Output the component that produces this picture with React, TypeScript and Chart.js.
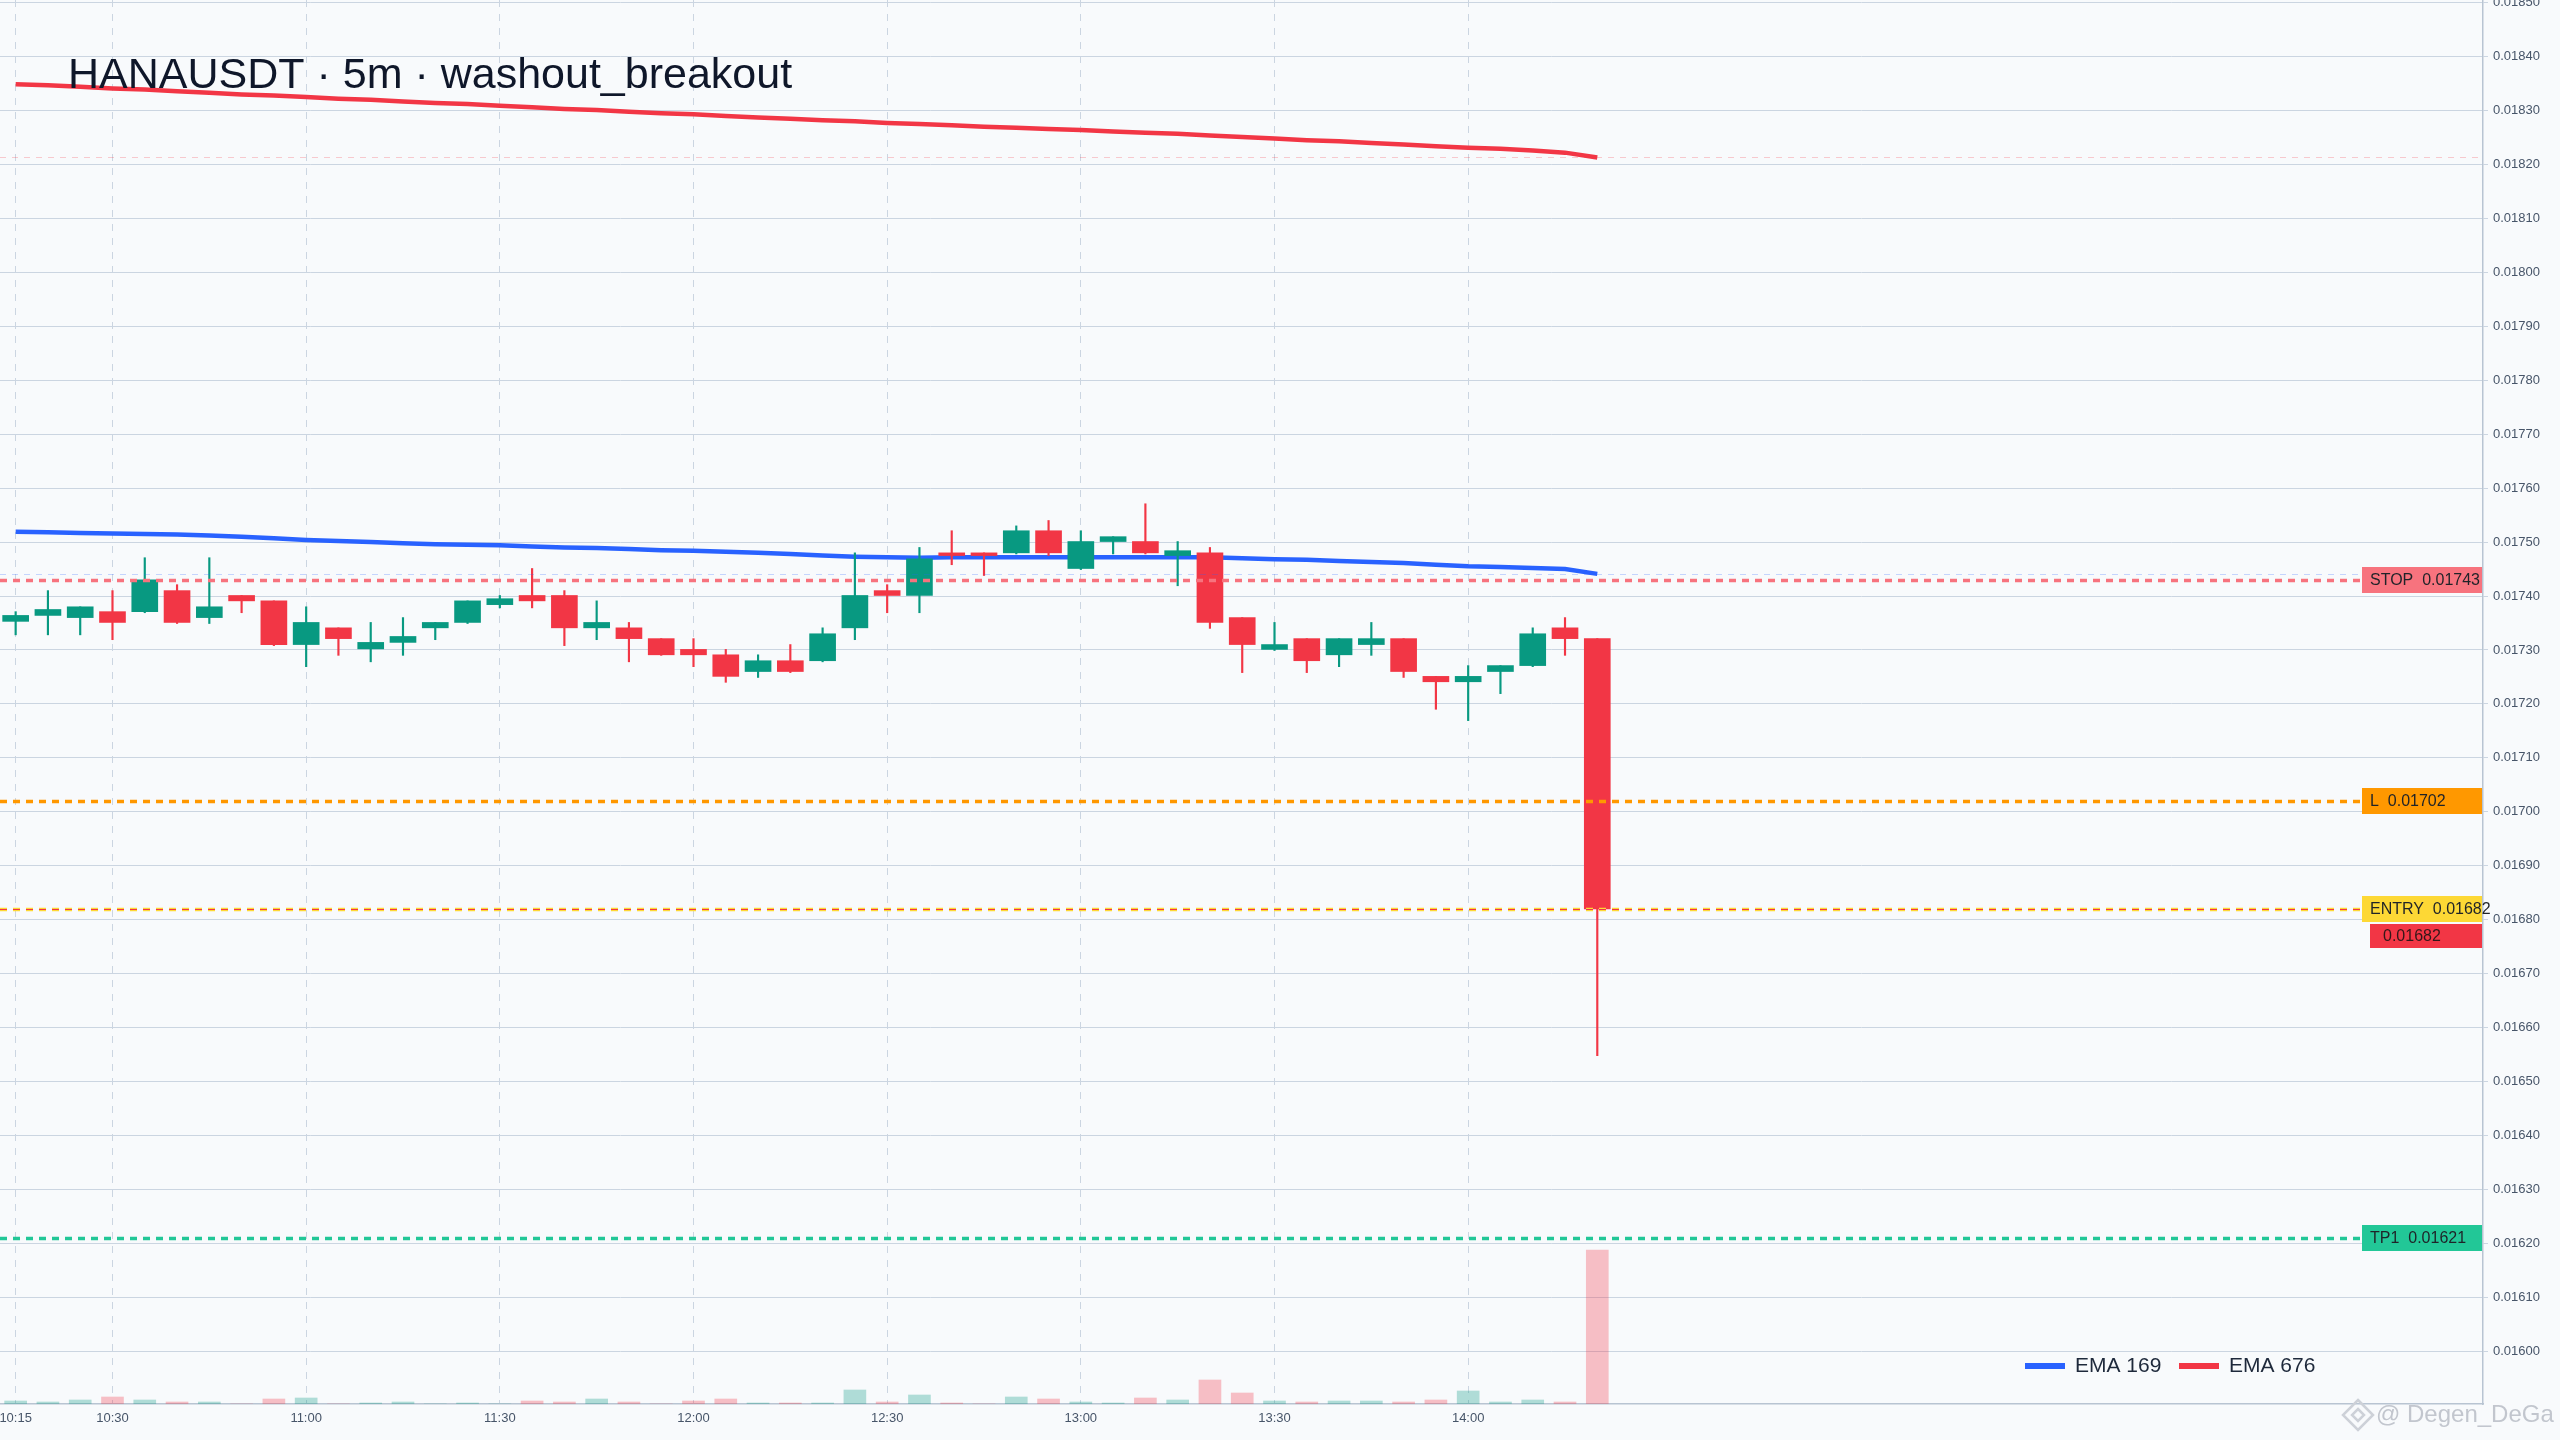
import { useEffect, useRef } from 'react';
import { Chart, registerables } from 'chart.js';

Chart.register(...registerables);

// ---------- data ----------
const TITLE = 'HANAUSDT · 5m · washout_breakout';

const opens = [
  0.017353, 0.017364, 0.017360, 0.017371, 0.017371, 0.017410, 0.017360, 0.017401, 0.017391, 0.017310,
  0.017341, 0.017302, 0.017314, 0.017341, 0.017351, 0.017384, 0.017401, 0.017401, 0.017341, 0.017341,
  0.017321, 0.017301, 0.017291, 0.017260, 0.017280, 0.017280, 0.017341, 0.017410, 0.017401, 0.017480,
  0.017480, 0.017480, 0.017521, 0.017451, 0.017501, 0.017501, 0.017475, 0.017480, 0.017360, 0.017301,
  0.017321, 0.017291, 0.017310, 0.017321, 0.017251, 0.017241, 0.017260, 0.017271, 0.017341, 0.017321,
];
const highs = [
  0.017371, 0.017410, 0.017380, 0.017410, 0.017471, 0.017421, 0.017471, 0.017401, 0.017391, 0.017380,
  0.017341, 0.017351, 0.017360, 0.017351, 0.017391, 0.017401, 0.017451, 0.017410, 0.017391, 0.017351,
  0.017321, 0.017321, 0.017301, 0.017291, 0.017310, 0.017341, 0.017480, 0.017421, 0.017490, 0.017521,
  0.017480, 0.017530, 0.017540, 0.017521, 0.017510, 0.017571, 0.017501, 0.017490, 0.017360, 0.017351,
  0.017321, 0.017321, 0.017351, 0.017321, 0.017251, 0.017271, 0.017271, 0.017341, 0.017360, 0.017321,
];
const lows = [
  0.017328, 0.017328, 0.017328, 0.017319, 0.017369, 0.017349, 0.017349, 0.017369, 0.017308, 0.017269,
  0.017290, 0.017278, 0.017290, 0.017319, 0.017349, 0.017378, 0.017378, 0.017308, 0.017319, 0.017278,
  0.017290, 0.017269, 0.017240, 0.017249, 0.017258, 0.017278, 0.017319, 0.017369, 0.017369, 0.017458,
  0.017438, 0.017478, 0.017475, 0.017449, 0.017478, 0.017478, 0.017419, 0.017340, 0.017258, 0.017299,
  0.017258, 0.017269, 0.017290, 0.017249, 0.017190, 0.017169, 0.017219, 0.017269, 0.017290, 0.016548,
];
const closes = [
  0.017364, 0.017375, 0.017380, 0.017351, 0.017430, 0.017351, 0.017380, 0.017391, 0.017310, 0.017351,
  0.017321, 0.017314, 0.017325, 0.017351, 0.017391, 0.017395, 0.017391, 0.017341, 0.017351, 0.017321,
  0.017291, 0.017291, 0.017251, 0.017280, 0.017260, 0.017330, 0.017401, 0.017401, 0.017469, 0.017475,
  0.017475, 0.017521, 0.017480, 0.017501, 0.017510, 0.017480, 0.017484, 0.017351, 0.017310, 0.017310,
  0.017280, 0.017321, 0.017321, 0.017260, 0.017241, 0.017251, 0.017271, 0.017330, 0.017321, 0.016820,
];
const volumes = [
  30, 20, 40, 70, 40, 20, 20, 0, 50, 60,
  0, 10, 20, 0, 10, 0, 30, 20, 50, 20,
  0, 30, 50, 10, 10, 10, 140, 20, 90, 10,
  0, 70, 50, 20, 10, 60, 40, 240, 110, 30,
  20, 30, 30, 20, 40, 130, 20, 40, 20, 1540,
];
const ema169 = [
  0.017519, 0.017518, 0.017517, 0.017516, 0.017515, 0.017514, 0.017512, 0.017510, 0.017507, 0.017504,
  0.017502, 0.017500, 0.017498, 0.017496, 0.017495, 0.017494, 0.017492, 0.017490, 0.017489, 0.017487,
  0.017485, 0.017484, 0.017482, 0.017480, 0.017478, 0.017475, 0.017473, 0.017472, 0.017471, 0.017472,
  0.017472, 0.017472, 0.017472, 0.017472, 0.017472, 0.017472, 0.017472, 0.017472, 0.017470, 0.017468,
  0.017467, 0.017465, 0.017463, 0.017461, 0.017458, 0.017455, 0.017454, 0.017452, 0.017450, 0.017441,
];
const ema676 = [
  0.018349, 0.018347, 0.018344, 0.018341, 0.018339, 0.018336, 0.018333, 0.018330, 0.018328, 0.018325,
  0.018322, 0.018320, 0.018317, 0.018314, 0.018312, 0.018309, 0.018306, 0.018303, 0.018301, 0.018298,
  0.018295, 0.018293, 0.018290, 0.018287, 0.018285, 0.018282, 0.018280, 0.018277, 0.018275, 0.018273,
  0.018270, 0.018268, 0.018266, 0.018264, 0.018261, 0.018259, 0.018257, 0.018254, 0.018251, 0.018248,
  0.018245, 0.018243, 0.018240, 0.018237, 0.018234, 0.018231, 0.018229, 0.018226, 0.018222, 0.018213,
];

const xTickIndex = [0, 3, 9, 15, 21, 27, 33, 39, 45];
const xTickLabels = ['10:15', '10:30', '11:00', '11:30', '12:00', '12:30', '13:00', '13:30', '14:00'];
const yTicks = [
  0.016, 0.0161, 0.0162, 0.0163, 0.0164, 0.0165, 0.0166, 0.0167, 0.0168, 0.0169,
  0.017, 0.0171, 0.0172, 0.0173, 0.0174, 0.0175, 0.0176, 0.0177, 0.0178, 0.0179,
  0.018, 0.0181, 0.0182, 0.0183, 0.0184, 0.0185,
];

const levelNames = ['STOP', 'L', 'ENTRY', 'TP1'];
const levelPrices = [0.01743, 0.01702, 0.01682, 0.01621];
const legendNames = ['EMA 169', 'EMA 676'];
const WATERMARK = '@ Degen_DeGa';

// ---------- styles ----------
const W = 2560;
const H = 1440;
const BG = '#f8fafc';
const UP = '#089981';
const DOWN = '#f23645';
const UP_VOL = 'rgba(8,153,129,0.3)';
const DOWN_VOL = 'rgba(242,54,69,0.3)';
const BLUE = '#2962ff';
const RED = '#f23645';
const GRID = '#cbd5e1';
const AXIS = '#b8c4d2';
const TEXT = '#475569';
const FONT = '"Liberation Sans", Arial, sans-serif';
const levelColors = ['#f7737e', '#ff9800', '#fdd835', '#22c797'];

const X_MIN = -0.485;
const X_MAX = 76.44;
const Y_MIN = 0.015902;
const Y_MAX = 0.018505;
const VOL_MAX = 14040;

const candleColors = opens.map((o, i) => (closes[i] >= o ? UP : DOWN));
const volColors = opens.map((o, i) => (closes[i] >= o ? UP_VOL : DOWN_VOL));

const zeroPadding = (s: any) => {
  s.paddingLeft = 0;
  s.paddingRight = 0;
  s.paddingTop = 0;
  s.paddingBottom = 0;
};

const bgPlugin = {
  id: 'bgFill',
  beforeDraw(chart: any) {
    const ctx = chart.ctx;
    ctx.save();
    ctx.fillStyle = BG;
    ctx.fillRect(0, 0, chart.width, chart.height);
    ctx.restore();
  },
};

const overlayPlugin = {
  id: 'overlay',
  afterDatasetsDraw(chart: any) {
    const ctx = chart.ctx as CanvasRenderingContext2D;
    const area = chart.chartArea;
    const ys = chart.scales.y;
    const left = area.left;
    const right = area.right;

    const hline = (price: number, color: string, width: number, dash: number[]) => {
      const y = Math.round(ys.getPixelForValue(price)) + 0.5;
      ctx.save();
      ctx.strokeStyle = color;
      ctx.lineWidth = width;
      ctx.setLineDash(dash);
      ctx.beginPath();
      ctx.moveTo(left, y);
      ctx.lineTo(right, y);
      ctx.stroke();
      ctx.restore();
    };

    // faint last-value lines of the EMAs
    hline(ema676[ema676.length - 1], 'rgba(242,54,69,0.25)', 1, [6, 6]);
    hline(ema169[ema169.length - 1], 'rgba(41,98,255,0.25)', 1, [6, 6]);

    // level lines
    levelPrices.forEach((p, i) => hline(p, levelColors[i], 3.5, [7, 6]));
    // last price line
    const last = closes[closes.length - 1];
    hline(last, RED, 1, [7, 6]);

    // level labels
    ctx.save();
    ctx.font = `16px ${FONT}`;
    ctx.textBaseline = 'middle';
    ctx.textAlign = 'left';
    levelPrices.forEach((p, i) => {
      const y = ys.getPixelForValue(p);
      ctx.fillStyle = levelColors[i];
      ctx.fillRect(right - 121, Math.round(y) - 13, 120, 26);
      ctx.fillStyle = '#1f2328';
      ctx.fillText(`${levelNames[i]}  ${p.toFixed(5)}`, right - 113, y + 1);
    });
    // last price tag
    const ly = ys.getPixelForValue(last);
    ctx.fillStyle = RED;
    ctx.fillRect(right - 113, Math.round(ly) + 15, 112, 24);
    ctx.fillStyle = 'rgba(30,20,20,0.9)';
    ctx.fillText(last.toFixed(5), right - 100, Math.round(ly) + 28);
    ctx.restore();

    // title
    ctx.save();
    ctx.font = `43px ${FONT}`;
    ctx.fillStyle = '#0f172a';
    ctx.textBaseline = 'alphabetic';
    ctx.textAlign = 'left';
    ctx.fillText(TITLE, 68, 88);
    ctx.restore();

    // legend
    ctx.save();
    ctx.font = `21px ${FONT}`;
    ctx.textBaseline = 'middle';
    ctx.textAlign = 'left';
    const legColors = [BLUE, RED];
    let lx = 2025;
    legendNames.forEach((name, i) => {
      ctx.fillStyle = legColors[i];
      ctx.fillRect(lx, 1363, 40, 6);
      ctx.fillStyle = '#1e293b';
      ctx.fillText(name, lx + 50, 1366);
      lx += 154;
    });
    ctx.restore();

    // watermark
    ctx.save();
    ctx.strokeStyle = '#cdd1d8';
    ctx.lineWidth = 2.5;
    const cx = 2358;
    const cy = 1415;
    ctx.beginPath();
    ctx.moveTo(cx, cy - 15);
    ctx.lineTo(cx + 15, cy);
    ctx.lineTo(cx, cy + 15);
    ctx.lineTo(cx - 15, cy);
    ctx.closePath();
    ctx.stroke();
    ctx.beginPath();
    ctx.moveTo(cx, cy - 6);
    ctx.lineTo(cx + 6, cy);
    ctx.lineTo(cx, cy + 6);
    ctx.lineTo(cx - 6, cy);
    ctx.closePath();
    ctx.stroke();
    ctx.font = `24px ${FONT}`;
    ctx.fillStyle = '#c2c6ce';
    ctx.textBaseline = 'middle';
    ctx.textAlign = 'left';
    ctx.fillText(WATERMARK, 2376, cy);
    ctx.restore();
  },
};

export default function App() {
  const ref = useRef<HTMLCanvasElement | null>(null);

  useEffect(() => {
    document.body.style.margin = '0';
    document.body.style.overflow = 'hidden';
    document.body.style.background = BG;
    const canvas = ref.current;
    if (!canvas) return;

    const chart = new Chart(canvas, {
      type: 'bar',
      data: {
        datasets: [
          {
            type: 'bar',
            label: 'Volume',
            data: volumes.map((v, i) => ({ x: i, y: v })),
            yAxisID: 'yv',
            backgroundColor: volColors,
            borderWidth: 0,
            barThickness: 22,
            grouped: false,
            order: 5,
          },
          {
            type: 'line',
            label: legendNames[1],
            data: ema676.map((v, i) => ({ x: i, y: v })),
            yAxisID: 'y',
            borderColor: RED,
            borderWidth: 4.5,
            pointRadius: 0,
            tension: 0,
            fill: false,
            order: 4,
          },
          {
            type: 'line',
            label: legendNames[0],
            data: ema169.map((v, i) => ({ x: i, y: v })),
            yAxisID: 'y',
            borderColor: BLUE,
            borderWidth: 4.5,
            pointRadius: 0,
            tension: 0,
            fill: false,
            order: 3,
          },
          {
            type: 'bar',
            label: 'Wick',
            data: lows.map((l, i) => ({ x: i, y: [l, highs[i]] })),
            yAxisID: 'y',
            backgroundColor: candleColors,
            borderWidth: 0,
            barThickness: 1.5,
            grouped: false,
            order: 2,
          },
          {
            type: 'bar',
            label: 'Body',
            data: opens.map((o, i) => ({ x: i, y: [o, closes[i]] })),
            yAxisID: 'y',
            backgroundColor: candleColors,
            borderWidth: 0,
            barThickness: 26,
            grouped: false,
            order: 1,
          },
        ] as any,
      },
      options: {
        animation: false,
        responsive: false,
        maintainAspectRatio: false,
        devicePixelRatio: 1,
        layout: { padding: 0, autoPadding: false },
        events: [],
        plugins: {
          legend: { display: false },
          tooltip: { enabled: false },
          title: { display: false },
        },
        scales: {
          x: {
            type: 'linear',
            min: X_MIN,
            max: X_MAX,
            offset: false,
            grid: {
              display: true,
              offset: false,
              color: GRID,
              lineWidth: 1,
              drawTicks: false,
            },
            border: { display: true, color: AXIS, width: 1.5, dash: [7, 7] },
            ticks: {
              padding: 7,
              color: TEXT,
              autoSkip: false,
              maxRotation: 0,
              font: { family: FONT, size: 13 },
              callback: (v: any) => {
                const k = xTickIndex.indexOf(Number(v));
                return k >= 0 ? xTickLabels[k] : '';
              },
            },
            afterBuildTicks: (s: any) => {
              s.ticks = xTickIndex.map((v) => ({ value: v }));
            },
            afterFit: (s: any) => {
              s.height = 36;
              zeroPadding(s);
            },
          },
          y: {
            type: 'linear',
            position: 'right',
            min: Y_MIN,
            max: Y_MAX,
            grid: {
              color: GRID,
              lineWidth: 1,
              drawTicks: true,
              tickLength: 5,
              tickColor: GRID,
            },
            border: { display: true, color: AXIS, width: 1.5 },
            ticks: {
              padding: 5,
              color: TEXT,
              autoSkip: false,
              font: { family: FONT, size: 13 },
              callback: (v: any) => Number(v).toFixed(5),
            },
            afterBuildTicks: (s: any) => {
              s.ticks = yTicks.map((v) => ({ value: v }));
            },
            afterFit: (s: any) => {
              s.width = 77;
              zeroPadding(s);
            },
          },
          yv: {
            type: 'linear',
            display: false,
            min: 0,
            max: VOL_MAX,
          },
        },
      } as any,
      plugins: [bgPlugin, overlayPlugin],
    });

    return () => {
      chart.destroy();
    };
  }, []);

  return (
    <canvas
      ref={ref}
      width={W}
      height={H}
      style={{ display: 'block', width: W, height: H }}
    />
  );
}
